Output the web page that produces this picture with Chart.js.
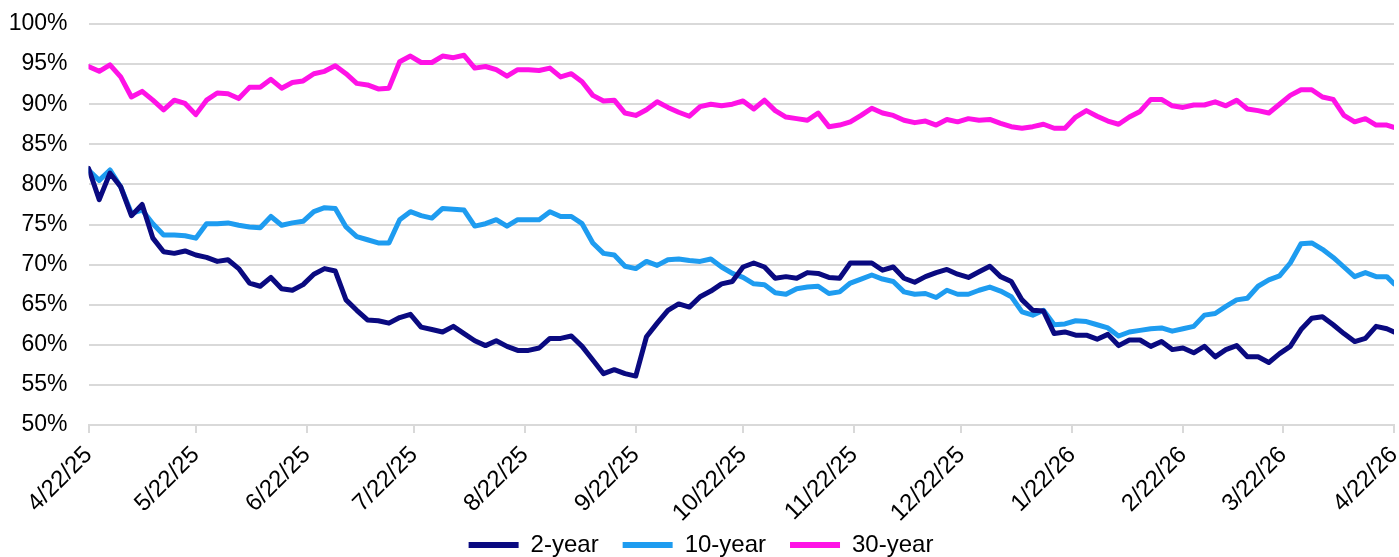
<!DOCTYPE html>
<html>
<head>
<meta charset="utf-8">
<script src="https://cdn.jsdelivr.net/npm/chart.js@4.4.1/dist/chart.umd.min.js"></script>
<style>
  html, body { margin: 0; padding: 0; background: #fff; }
</style>
</head>
<body>
<canvas id="chart" width="1399" height="557"></canvas>
<script>
// days since 4/22/25
const days = [
  0, 3, 6, 9, 12, 15, 18, 21, 24, 27,
  30, 33, 36, 39, 42, 45, 48, 51, 54, 57,
  60, 63, 66, 69, 72, 75, 78, 81, 84, 87,
  90, 93, 96, 99, 102, 105, 108, 111, 114, 117,
  120, 123, 126, 129, 132, 135, 138, 141, 144, 147,
  150, 153, 156, 159, 162, 165, 168, 171, 174, 177,
  180, 183, 186, 189, 192, 195, 198, 201, 204, 207,
  210, 213, 216, 219, 222, 225, 228, 231, 234, 237,
  240, 243, 246, 249, 252, 255, 258, 261, 264, 267,
  270, 273, 276, 279, 282, 285, 288, 291, 294, 297,
  300, 303, 306, 309, 312, 315, 318, 321, 324, 327,
  330, 333, 336, 339, 342, 345, 348, 351, 354, 357,
  360, 363, 365
];

const twoYear = [
  82.0, 78.1, 81.4, 79.7, 76.1, 77.5, 73.3, 71.6, 71.4, 71.7,
  71.2, 70.9, 70.4, 70.6, 69.5, 67.7, 67.3, 68.4, 67.0, 66.8,
  67.5, 68.8, 69.5, 69.2, 65.6, 64.3, 63.1, 63.0, 62.7, 63.4,
  63.8, 62.2, 61.9, 61.6, 62.3, 61.4, 60.5, 59.9, 60.5, 59.8,
  59.3, 59.3, 59.6, 60.8, 60.8, 61.1, 59.8, 58.1, 56.4, 56.9,
  56.4, 56.1, 61.0, 62.7, 64.3, 65.1, 64.7, 66.0, 66.7, 67.6,
  67.9, 69.7, 70.2, 69.7, 68.3, 68.5, 68.3, 69.0, 68.9, 68.4,
  68.3, 70.2, 70.2, 70.2, 69.3, 69.7, 68.3, 67.8, 68.5, 69.0,
  69.4, 68.8, 68.4, 69.1, 69.8, 68.5, 67.9, 65.6, 64.3, 64.2,
  61.4, 61.6, 61.2, 61.2, 60.7, 61.3, 59.9, 60.6, 60.6, 59.8,
  60.4, 59.4, 59.6, 59.0, 59.8, 58.5, 59.4, 59.9, 58.5, 58.5,
  57.8, 58.9, 59.8, 61.9, 63.3, 63.5, 62.5, 61.4, 60.4, 60.8,
  62.3, 62.0, 61.6
];

const tenYear = [
  81.8, 80.5, 81.8, 79.7, 76.4, 76.8, 75.1, 73.7, 73.7, 73.6,
  73.3, 75.1, 75.1, 75.2, 74.9, 74.7, 74.6, 76.0, 74.9, 75.2,
  75.4, 76.6, 77.1, 77.0, 74.7, 73.5, 73.1, 72.7, 72.7, 75.6,
  76.6, 76.1, 75.8, 77.0, 76.9, 76.8, 74.8, 75.1, 75.6, 74.8,
  75.6, 75.6, 75.6, 76.6, 76.0, 76.0, 75.1, 72.7, 71.4, 71.2,
  69.8, 69.5, 70.4, 69.9, 70.6, 70.7, 70.5, 70.4, 70.7, 69.7,
  68.9, 68.4, 67.6, 67.5, 66.5, 66.3, 67.0, 67.2, 67.3, 66.4,
  66.6, 67.7, 68.2, 68.7, 68.2, 67.9, 66.6, 66.3, 66.4, 65.9,
  66.8, 66.3, 66.3, 66.8, 67.2, 66.7, 66.0, 64.1, 63.7, 64.3,
  62.5, 62.6, 63.0, 62.9, 62.5, 62.1, 61.1, 61.6, 61.8, 62.0,
  62.1, 61.7, 62.0, 62.3, 63.7, 63.9, 64.8, 65.6, 65.8, 67.3,
  68.1, 68.6, 70.2, 72.6, 72.7, 71.9, 70.9, 69.7, 68.5, 69.0,
  68.5, 68.5, 67.6
];

const thirtyYear = [
  94.7, 94.1, 94.9, 93.4, 90.9, 91.6, 90.5, 89.3, 90.5, 90.1,
  88.7, 90.5, 91.4, 91.3, 90.7, 92.1, 92.1, 93.1, 92.0, 92.7,
  92.9, 93.8, 94.1, 94.8, 93.8, 92.6, 92.4, 91.9, 92.0, 95.3,
  96.0, 95.2, 95.2, 96.0, 95.8, 96.1, 94.5, 94.7, 94.3, 93.5,
  94.3, 94.3, 94.2, 94.5, 93.4, 93.8, 92.8, 91.1, 90.4, 90.5,
  88.9, 88.6, 89.3, 90.3, 89.6, 89.0, 88.5, 89.7, 90.0, 89.8,
  90.0, 90.4, 89.4, 90.5, 89.2, 88.4, 88.2, 88.0, 88.9, 87.2,
  87.4, 87.8, 88.6, 89.5, 88.9, 88.6, 88.0, 87.7, 87.9, 87.4,
  88.1, 87.8, 88.2, 88.0, 88.1, 87.6, 87.2, 87.0, 87.2, 87.5,
  87.0, 87.0, 88.4, 89.2, 88.5, 87.9, 87.5, 88.4, 89.1, 90.6,
  90.6, 89.8, 89.6, 89.9, 89.9, 90.3, 89.8, 90.5, 89.4, 89.2,
  88.9, 90.0, 91.1, 91.8, 91.8, 90.9, 90.6, 88.6, 87.8, 88.2,
  87.4, 87.4, 87.1
];

// x axis ticks (days since 4/22/25) and their labels
const tickDays = [0, 30, 61, 91, 122, 153, 183, 214, 244, 275, 306, 334, 365];
const tickLabels = ["4/22/25", "5/22/25", "6/22/25", "7/22/25", "8/22/25", "9/22/25",
  "10/22/25", "11/22/25", "12/22/25", "1/22/26", "2/22/26", "3/22/26", "4/22/26"];

const gridColor = "#d9d9d9";
const font = "'Liberation Sans', Arial, sans-serif";

function series(label, values, color) {
  return {
    label: label,
    data: days.map((d, i) => ({ x: d, y: values[i] })),
    borderColor: color,
    backgroundColor: color,
    borderWidth: 5,
    borderCapStyle: "round",
    borderJoinStyle: "round",
    pointRadius: 0,
    tension: 0,
  };
}

// let the rotated date labels run past the axis box instead of being clipped
const unclipXLabels = {
  id: "unclipXLabels",
  afterLayout(chart) {
    chart.scales.x.bottom = chart.height;
  },
};

new Chart(document.getElementById("chart"), {
  type: "line",
  data: {
    datasets: [
      series("2-year", twoYear, "#0a0a80"),
      series("10-year", tenYear, "#1e9cf0"),
      series("30-year", thirtyYear, "#ff12e6"),
    ],
  },
  options: {
    responsive: false,
    animation: false,
    layout: { padding: { top: 24, right: 5, left: 8, bottom: -10 } },
    scales: {
      x: {
        type: "linear",
        min: 0,
        max: 365,
        afterBuildTicks: (axis) => {
          axis.ticks = tickDays.map((v) => ({ value: v }));
        },
        afterFit: (axis) => {
          // rotated labels shouldn't push the plot inward
          axis.paddingLeft = 0;
          axis.paddingRight = 0;
          axis.height = 84;
        },
        ticks: {
          autoSkip: false,
          minRotation: 45,
          maxRotation: 45,
          padding: 8,
          color: "#000",
          font: { family: font, size: 24 },
          callback: (value) => tickLabels[tickDays.indexOf(value)],
        },
        grid: {
          drawOnChartArea: false,
          drawTicks: true,
          tickLength: 8,
          color: gridColor,
          lineWidth: 2,
        },
        border: { color: gridColor, width: 2 },
      },
      y: {
        min: 50,
        max: 100,
        afterFit: (axis) => {
          axis.width = 80.5;
          axis.paddingTop = 0;
          axis.paddingBottom = 0;
        },
        ticks: {
          stepSize: 5,
          padding: 21,
          color: "#000",
          font: { family: font, size: 23 },
          callback: (v) => v + "%",
        },
        grid: { color: gridColor, lineWidth: 2, drawTicks: false },
        border: { display: false },
      },
    },
    plugins: {
      legend: {
        position: "bottom",
        labels: {
          usePointStyle: true,
          pointStyle: "line",
          pointStyleWidth: 50,
          padding: 24,
          color: "#000",
          font: { family: font, size: 24 },
          generateLabels: (chart) =>
            Chart.defaults.plugins.legend.labels.generateLabels(chart).map((item) => {
              item.lineWidth = 6;
              return item;
            }),
        },
      },
      tooltip: { enabled: false },
    },
  },
  plugins: [unclipXLabels],
});
</script>
</body>
</html>
